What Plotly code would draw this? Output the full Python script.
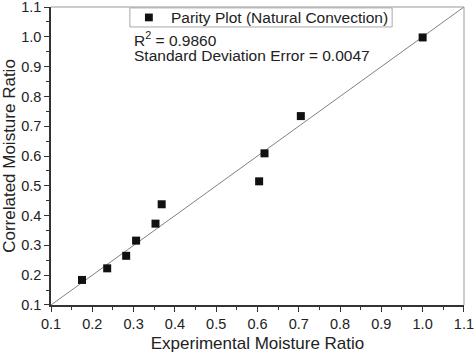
import plotly.graph_objects as go

experimental = [0.175, 0.236, 0.282, 0.306, 0.353, 0.368, 0.604, 0.617, 0.705, 1.0]
correlated = [0.184, 0.223, 0.265, 0.316, 0.373, 0.438, 0.515, 0.609, 0.734, 0.998]
line_x = [0.1, 1.1]
line_y = [0.1, 1.1]
tick_vals = [0.1, 0.2, 0.3, 0.4, 0.5, 0.6, 0.7, 0.8, 0.9, 1.0, 1.1]
tick_text = ["0.1", "0.2", "0.3", "0.4", "0.5", "0.6", "0.7", "0.8", "0.9", "1.0", "1.1"]
series_name = "Parity Plot (Natural Convection)"

FONT = "Liberation Sans, Arial"
TXT = "#222222"

fig = go.Figure()
fig.add_trace(go.Scatter(x=line_x, y=line_y, mode="lines",
                         line=dict(color="#808080", width=1), showlegend=False, hoverinfo="skip"))
fig.add_trace(go.Scatter(x=experimental, y=correlated, mode="markers",
                         marker=dict(symbol="square", size=8, color="#111111"),
                         name=series_name, showlegend=False))

axis_common = dict(
    range=[0.0999, 1.1002], tickvals=tick_vals, ticktext=tick_text,
    ticks="outside", ticklen=5, tickwidth=1, tickcolor="#333333",
    showline=True, linecolor="#333333", linewidth=1.5,
    showgrid=False, zeroline=False, automargin=False,
    ticklabeloverflow="allow",
    tickfont=dict(family=FONT, size=14.5, color=TXT),
    minor=dict(ticks="outside", ticklen=3, dtick=0.05, tickcolor="#333333", showgrid=False),
)

fig.update_layout(
    width=474, height=354,
    margin=dict(l=51, r=10, t=7, b=49),
    plot_bgcolor="white", paper_bgcolor="white",
    xaxis=dict(**axis_common,
               title=dict(text="Experimental Moisture Ratio", standoff=6,
                          font=dict(family=FONT, size=17, color=TXT))),
    yaxis=dict(**axis_common,
               title=dict(text="Correlated Moisture Ratio", standoff=7,
                          font=dict(family=FONT, size=17, color=TXT))),
    showlegend=False,
)

# frame top/right
fig.add_shape(type="line", xref="paper", yref="paper", x0=0, x1=1, y0=1, y1=1,
              line=dict(color="#999999", width=1))
fig.add_shape(type="line", xref="paper", yref="paper", x0=1, x1=1, y0=0, y1=1,
              line=dict(color="#999999", width=1))

# legend box (drawn manually to match the compact reference legend)
fig.add_shape(type="rect", xref="paper", yref="paper", x0=0.191, x1=0.826, y0=0.933, y1=0.997,
              line=dict(color="#aaaaaa", width=1), fillcolor="white", layer="above")
fig.add_shape(type="rect", xref="paper", yref="paper", x0=0.2275, x1=0.2465, y0=0.952, y1=0.978,
              line=dict(color="#111111", width=0), fillcolor="#111111", layer="above")
fig.add_annotation(xref="paper", yref="paper", x=0.286, y=0.966, xanchor="left", yanchor="middle",
                   text=series_name, showarrow=False,
                   font=dict(family=FONT, size=15.5, color=TXT))

fig.add_annotation(xref="paper", yref="paper", x=0.196, y=0.893, xanchor="left", yanchor="middle",
                   text="R<sup>2</sup> = 0.9860", showarrow=False,
                   font=dict(family=FONT, size=15.5, color=TXT))
fig.add_annotation(xref="paper", yref="paper", x=0.196, y=0.838, xanchor="left", yanchor="middle",
                   text="Standard Deviation Error = 0.0047", showarrow=False,
                   font=dict(family=FONT, size=15.5, color=TXT))

fig.write_html("out.html")
